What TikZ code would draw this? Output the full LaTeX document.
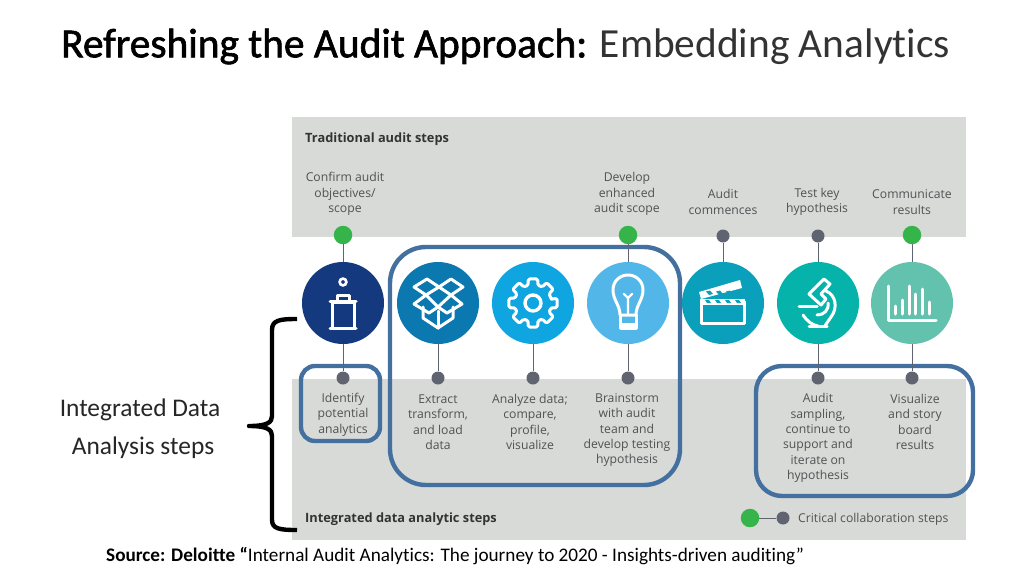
\documentclass[tikz,border=0pt]{standalone}
\usepackage{fontspec}
\setmainfont[Ligatures=NoCommon,Contextuals=NoAlternate]{Carlito}
\newfontfamily\titlefake[FakeBold=1.5,Ligatures=NoCommon]{Carlito}
\newfontfamily\labelfont{Open Sans}
\definecolor{band}{HTML}{D8DAD8}
\definecolor{okgreen}{HTML}{35B44A}
\definecolor{dotgrey}{HTML}{5F6470}
\definecolor{txtgrey}{HTML}{505254}
\definecolor{framec}{HTML}{43709E}
\definecolor{cA}{HTML}{15397F}
\definecolor{cB}{HTML}{0B78B0}
\definecolor{cC}{HTML}{0FA5E0}
\definecolor{cD}{HTML}{52B6E8}
\definecolor{cE}{HTML}{0AA0BB}
\definecolor{cF}{HTML}{05B3AB}
\definecolor{cG}{HTML}{63C2AD}
\tikzset{
  disc/.style={circle,minimum size=82pt,inner sep=0pt,fill=#1},
  gdot/.style={circle,minimum size=18.5pt,inner sep=0pt,fill=okgreen},
  sdot/.style={circle,minimum size=13pt,inner sep=0pt,fill=dotgrey},
  link/.style={draw=dotgrey,line width=1pt},
  lbl/.style={align=center,inner sep=0pt,text=txtgrey,font=\labelfont\fontsize{12.2}{15.4}\selectfont},
  head/.style={anchor=west,inner sep=0pt,text=black!80,font=\labelfont\bfseries\fontsize{12.8}{15}\selectfont},
  frame/.style={draw=framec,line width=4.4pt,fill=none,rounded corners=#1},
  ico/.style={draw=white,line width=3pt,fill=none,line join=round,line cap=round},
}
\begin{document}
\begin{tikzpicture}[x=1pt,y=-1pt]
\useasboundingbox (0,0) rectangle (1024,576);
\fill[white] (0,0) rectangle (1024,576);
% bands
\fill[band] (292,117) rectangle (966,237);
\fill[band] (292,379) rectangle (966,540);
% title
\node[anchor=west,inner sep=0pt,font=\fontsize{41.4}{46}\selectfont] (title) at (61,46.5)
  {{\titlefake Refreshing the Audit Approach:} \textcolor{black!80}{Embedding Analytics}};
% discs
\node[disc=cA] (c1) at (343,303) {};
\node[disc=cB] (c2) at (438,303) {};
\node[disc=cC] (c3) at (533,303) {};
\node[disc=cD] (c4) at (628,303) {};
\node[disc=cE] (c5) at (723,303) {};
\node[disc=cF] (c6) at (818,303) {};
\node[disc=cG] (c7) at (912,303) {};
% top dots
\node[gdot] (t1) at (343,235) {};
\node[gdot] (t4) at (628,235) {};
\node[sdot] (t5) at (723,236) {};
\node[sdot] (t6) at (818,236) {};
\node[gdot] (t7) at (912,235) {};
% bottom dots
\node[sdot] (b1) at (343,378) {};
\node[sdot] (b2) at (438,378) {};
\node[sdot] (b3) at (533,378) {};
\node[sdot] (b4) at (628,378) {};
\node[sdot] (b6) at (818,378) {};
\node[sdot] (b7) at (912,378) {};
% frames
\draw[frame=14pt] (301,366) rectangle (380,441);
\draw[frame=36pt] (390,247) rectangle (680,485);
\draw[frame=26pt] (756,366) rectangle (973,496);
% connectors
\foreach \a/\b in {t1/c1,t4/c4,t5/c5,t6/c6,t7/c7,c1/b1,c2/b2,c3/b3,c4/b4,c6/b6,c7/b7}
  \draw[link] (\a) -- (\b);
% icon 1: bottle
\begin{scope}[shift={(343,303)}]
  \draw[white,line width=2.6pt] (0,-21) circle (3.4);
  \draw[ico] (-11,-1) rectangle (11,25);
  \draw[ico] (-13,-2) -- (13,-2);
  \draw[ico] (-13,25) -- (13,25);
  \draw[ico] (-6,-2) -- (-6,-8) -- (6,-8) -- (6,-2);
\end{scope}
% icon 2: open box
\begin{scope}[shift={(438,303)}]
  \draw[ico] (-15,4) -- (-15,15) -- (0,25) -- (15,15) -- (15,4);
  \draw[ico] (0,8) -- (0,25);
  \draw[ico] (-24,-16) -- (-11,-24) -- (1,-16) -- (13,-24) -- (25,-16) -- (13,-8) -- (1,-16) -- (-12,-8) -- cycle;
  \draw[ico] (-12,-8) -- (-24,1) -- (-9,10) -- (0,4) -- (9,10) -- (24,1) -- (13,-8);
  \draw[ico] (-12,-8) -- (0,4) -- (13,-8);
\end{scope}
% icon 3: gear
\begin{scope}[shift={(533,303)}]
  \draw[ico,rounded corners=1.5pt] (-11.25:19)
    \foreach \k in {0,45,...,315}{
      -- (\k-11.25:24.5) -- (\k+11.25:24.5) -- (\k+15:18.5) -- (\k+30:18.5) }
    -- cycle;
  \draw[ico,line width=3.4pt] (0,0) circle (8);
\end{scope}
% icon 4: bulb
\begin{scope}[shift={(628,303)}]
  \draw[ico] (-8,12) .. controls (-8,2) and (-15,-3) .. (-15,-13)
     .. controls (-15,-22) and (-8,-28) .. (0,-28)
     .. controls (8,-28) and (15,-22) .. (15,-13)
     .. controls (15,-3) and (8,2) .. (8,12) -- cycle;
  \draw[ico] (-8,12) -- (-8,25) -- (8,25) -- (8,12);
  \fill[white] (-8,20) rectangle (8,25);
  \draw[ico,line width=2.2pt] (0,12) -- (0,-5) (-4,-9) -- (0,-5) -- (4,-9);
\end{scope}
% icon 5: clapperboard
\begin{scope}[shift={(723,303)}]
  \draw[ico] (-22,-2) rectangle (21,20);
  \fill[white] (-23,-4) rectangle (22,2);
  \foreach \xa in {-18,-8,2,12} \fill[cE] (\xa,-3) -- (\xa+4,-3) -- (\xa+6,0) -- (\xa+2,0) -- cycle;
  \fill[white] (-24,-11) -- (17,-23) -- (19,-15) -- (-22,-4) -- cycle;
  \foreach \xa in {-17,-7,3} \fill[cE] (\xa,-11.5) -- (\xa+4,-12.5) -- (\xa+7,-9) -- (\xa+3,-8) -- cycle;
\end{scope}
% icon 6: microscope
\begin{scope}[shift={(818,303)}]
  \draw[ico] (-19,3) -- (-1,3);
  \draw[ico] (-9,23) -- (9,23);
  \draw[ico] (-15,12) .. controls (-11,18) and (-6,22) .. (0,23);
  \draw[ico] (8,-12) .. controls (18,-8) and (20,5) .. (13,14) .. controls (11,17) and (8,21) .. (7,23);
  \draw[ico] (-1,12) .. controls (6,12) and (11,7) .. (10,0);
  \draw[ico] (-9,-9) -- (6,-24) -- (12,-19) -- (3,-9) -- (8,-4) -- (3,2) -- cycle;
\end{scope}
% icon 7: bar chart
\begin{scope}[shift={(912,303)}]
  \draw[ico] (-24,-17) -- (-24,17) -- (24,17);
  \foreach \xa/\ya in {-17/3,-10/-3,-3/-17,3/-9,10/-14,17/-1}
    \draw[ico] (\xa,\ya) -- (\xa,11);
\end{scope}
% labels
\node[head] (h1) at (305,139) {Traditional audit steps};
\node[head] (h2) at (305,519) {Integrated data analytic steps};
\node[lbl] (l1) at (345,194) {Confirm audit\\objectives/\\scope};
\node[lbl] (l4) at (627,194) {Develop\\enhanced\\audit scope};
\node[lbl] (l5) at (723,202) {Audit\\commences};
\node[lbl] (l6) at (817,202) {Test key\\hypothesis};
\node[lbl] (l7) at (912,202) {Communicate\\results};
\node[lbl] (m1) at (343,414.5) {Identify\\potential\\analytics};
\node[lbl] (m2) at (438,422) {Extract\\transform,\\and load\\data};
\node[lbl] (m3) at (530,422) {Analyze data;\\compare,\\profile,\\visualize};
\node[lbl] (m4) at (627,430) {Brainstorm\\with audit\\team and\\develop testing\\hypothesis};
\node[lbl] (m6) at (818,438) {Audit\\sampling,\\continue to\\support and\\iterate on\\hypothesis};
\node[lbl] (m7) at (915,422) {Visualize\\and story\\board\\results};
% legend
\node[gdot] (lg) at (750,518) {};
\node[sdot] (ls) at (783,518) {};
\draw[link] (lg) -- (ls);
\node[lbl,anchor=west] (lt) at (798,519) {Critical collaboration steps};
% brace
\draw[black,line width=4.4pt,line join=round] (297,319)
  .. controls (280,319) and (272,320) .. (272,330) -- (272,416)
  .. controls (272,422) and (268,426) .. (249,426)
  .. controls (268,426) and (272,430) .. (272,436) -- (272,520)
  .. controls (272,529) and (280,530) .. (297,530);
\node[inner sep=0pt,font=\fontsize{25.4}{30}\selectfont,text=black!85] (s1) at (140,410) {Integrated Data};
\node[inner sep=0pt,font=\fontsize{25.4}{30}\selectfont,text=black!85] (s2) at (143,448) {Analysis steps};
% source
\node[anchor=west,inner sep=0pt,font=\fontsize{19.2}{23}\selectfont] (src) at (106,556.5)
  {\textbf{Source: Deloitte “}Internal Audit Analytics: The journey to 2020 - Insights-driven auditing”};
\end{tikzpicture}
\end{document}
